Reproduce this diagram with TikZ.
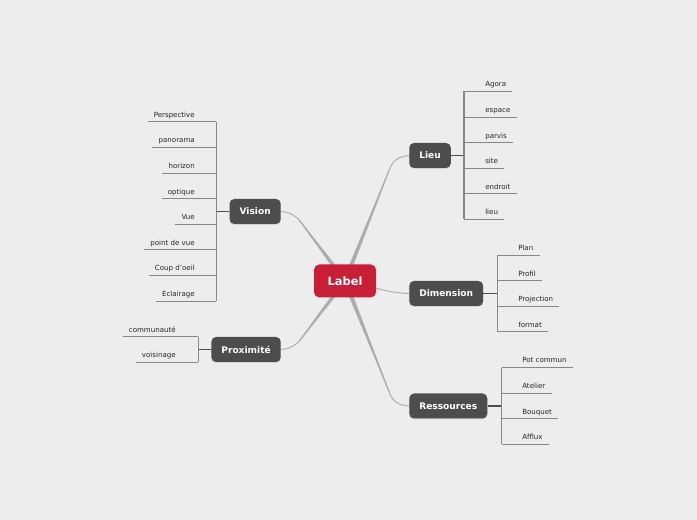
\documentclass[tikz,border=0pt]{standalone}
\usepackage{fontspec}
\setmainfont{DejaVu Sans}
\usetikzlibrary{calc,backgrounds,shadows}

\definecolor{bgcol}{RGB}{237,237,237}
\definecolor{labelred}{RGB}{200,30,54}
\definecolor{topicgrey}{RGB}{77,77,77}
\definecolor{branchgrey}{RGB}{172,172,172}
\definecolor{leafgrey}{RGB}{135,135,135}

\tikzset{
  central/.style={fill=labelred, rounded corners=4pt, text=white, font=\fontsize{8.6}{10}\selectfont\bfseries,
    minimum width=46.5pt, minimum height=24.75pt, inner sep=0pt},
  topic/.style={fill=topicgrey, rounded corners=3.5pt, text=white, font=\fontsize{6.8}{8}\selectfont\bfseries,
    minimum height=18.75pt, inner xsep=7.5pt, inner ysep=0pt,
    drop shadow={shadow xshift=0pt, shadow yshift=-0.6pt, opacity=0.25}},
  leaf/.style={font=\fontsize{5.3}{6}\selectfont, text=black!85, inner xsep=4.5pt, inner ysep=3.3pt, text depth=0pt},
  twig/.style={draw=branchgrey, line width=0.7pt},
  underline/.style={draw=leafgrey, line width=0.7pt},
  bracket/.style={draw=leafgrey, line width=0.8pt},
  stem/.style={draw=topicgrey, line width=1.1pt},
}

% tapered branch from the central topic, ending just before the bend
\newcommand\taper[1]{%
  \coordinate (tp) at ($(label.center)!0.9!(#1)$);
  \fill[branchgrey] ($(label.center)!1.7pt!90:(tp)$) -- ($(tp)!0.35pt!-90:(label.center)$)
    -- ($(tp)!0.35pt!90:(label.center)$) -- ($(label.center)!1.7pt!-90:(tp)$) -- cycle;}

\begin{document}
\begin{tikzpicture}[x=0.75pt,y=0.75pt,yscale=-1,xscale=1]
  \useasboundingbox (0,0) rectangle (697,520);

  % Central topic
  \node[central] (label) at (345,281) {Label};

  % Main topics
  \node[topic, anchor=west] (lieu) at (409,155.5) {Lieu};
  \node[topic, anchor=west] (dimension) at (409,293.5) {Dimension};
  \node[topic, anchor=west] (ressources) at (409,406) {Ressources};
  \node[topic, anchor=east] (vision) at (281,211.5) {Vision};
  \node[topic, anchor=east] (proximite) at (281,349.5) {Proximité};

  % Bends of the branches
  \coordinate (lieu-k) at (394,158);
  \coordinate (dim-k) at (396,293);
  \coordinate (res-k) at (394,404);
  \coordinate (vision-k) at (294,213);
  \coordinate (prox-k) at (294,348);

  % Bracket points
  \coordinate (lieu-b) at ([xshift=9.75pt]lieu.east);
  \coordinate (dim-b) at ([xshift=10.5pt]dimension.east);
  \coordinate (res-b) at ([xshift=10.5pt]ressources.east);
  \coordinate (vision-b) at ([xshift=-9.75pt]vision.west);
  \coordinate (prox-b) at ([xshift=-9.75pt]proximite.west);

  % Text Node -- Lieu
  \node[leaf, anchor=south west] (agora) at (479,91.5) {Agora};
  \node[leaf, anchor=south west] (espace) at (479,117.1) {espace};
  \node[leaf, anchor=south west] (parvis) at (479,142.7) {parvis};
  \node[leaf, anchor=south west] (site) at (479,168.3) {site};
  \node[leaf, anchor=south west] (endroit) at (479,193.9) {endroit};
  \node[leaf, anchor=south west] (lieuleaf) at (479,219.5) {lieu};

  % Text Node -- Dimension
  \node[leaf, anchor=south west] (plan) at (512,255.1) {Plan};
  \node[leaf, anchor=south west] (profil) at (512,280.7) {Profil};
  \node[leaf, anchor=south west] (projection) at (512,306.3) {Projection};
  \node[leaf, anchor=south west] (format) at (512,331.9) {format};

  % Text Node -- Ressources
  \node[leaf, anchor=south west] (pot) at (516,367.6) {Pot commun};
  \node[leaf, anchor=south west] (atelier) at (516,393.2) {Atelier};
  \node[leaf, anchor=south west] (bouquet) at (516,418.8) {Bouquet};
  \node[leaf, anchor=south west] (afflux) at (516,444.4) {Afflux};

  % Text Node -- Vision
  \node[leaf, anchor=south east] (perspective) at (201,121.9) {Perspective};
  \node[leaf, anchor=south east] (panorama) at (201,147.5) {panorama};
  \node[leaf, anchor=south east] (horizon) at (201,173.1) {horizon};
  \node[leaf, anchor=south east] (optique) at (201,198.7) {optique};
  \node[leaf, anchor=south east] (vue) at (201,224.3) {Vue};
  \node[leaf, anchor=south east] (pointvue) at (201,249.9) {point de vue};
  \node[leaf, anchor=south east] (coup) at (201,275.5) {Coup d'oeil};
  \node[leaf, anchor=south east] (eclairage) at (201,301.1) {Eclairage};

  % Text Node -- Proximité
  \node[leaf, anchor=south east] (communaute) at (182,336.7) {communauté};
  \node[leaf, anchor=south east] (voisinage) at (182,362.3) {voisinage};

  \begin{scope}[on background layer]
    \fill[bgcol] (0,0) rectangle (697,520);

    %Branches
    \taper{lieu-k}
    \taper{res-k}
    \taper{vision-k}
    \taper{prox-k}
    \draw[twig, rounded corners=7pt] (label.center) -- (lieu-k) -- (lieu.west);
    \draw[twig, rounded corners=7pt] (label.center) -- (dim-k) -- (dimension.west);
    \draw[twig, rounded corners=7pt] (label.center) -- (res-k) -- (ressources.west);
    \draw[twig, rounded corners=7pt] (label.center) -- (vision-k) -- (vision.east);
    \draw[twig, rounded corners=7pt] (label.center) -- (prox-k) -- (proximite.east);

    %Stems and brackets
    \draw[stem] (lieu.east) -- (lieu-b);
    \draw[bracket] (lieu-b |- agora.south) -- (lieu-b |- lieuleaf.south);
    \draw[stem] (dimension.east) -- (dim-b);
    \draw[bracket] (dim-b |- plan.south) -- (dim-b |- format.south);
    \draw[stem] (ressources.east) -- (res-b);
    \draw[bracket] (res-b |- pot.south) -- (res-b |- afflux.south);
    \draw[stem] (vision.west) -- (vision-b);
    \draw[bracket] (vision-b |- perspective.south) -- (vision-b |- eclairage.south);
    \draw[stem] (proximite.west) -- (prox-b);
    \draw[bracket] (prox-b |- communaute.south) -- (prox-b |- voisinage.south);

    %Underlines
    \foreach \n in {agora,espace,parvis,site,endroit,lieuleaf}
      \draw[underline] (lieu-b |- \n.south) -- (\n.south east);
    \foreach \n in {plan,profil,projection,format}
      \draw[underline] (dim-b |- \n.south) -- (\n.south east);
    \foreach \n in {pot,atelier,bouquet,afflux}
      \draw[underline] (res-b |- \n.south) -- (\n.south east);
    \foreach \n in {perspective,panorama,horizon,optique,vue,pointvue,coup,eclairage}
      \draw[underline] (\n.south west) -- (vision-b |- \n.south);
    \foreach \n in {communaute,voisinage}
      \draw[underline] (\n.south west) -- (prox-b |- \n.south);
  \end{scope}
\end{tikzpicture}
\end{document}
